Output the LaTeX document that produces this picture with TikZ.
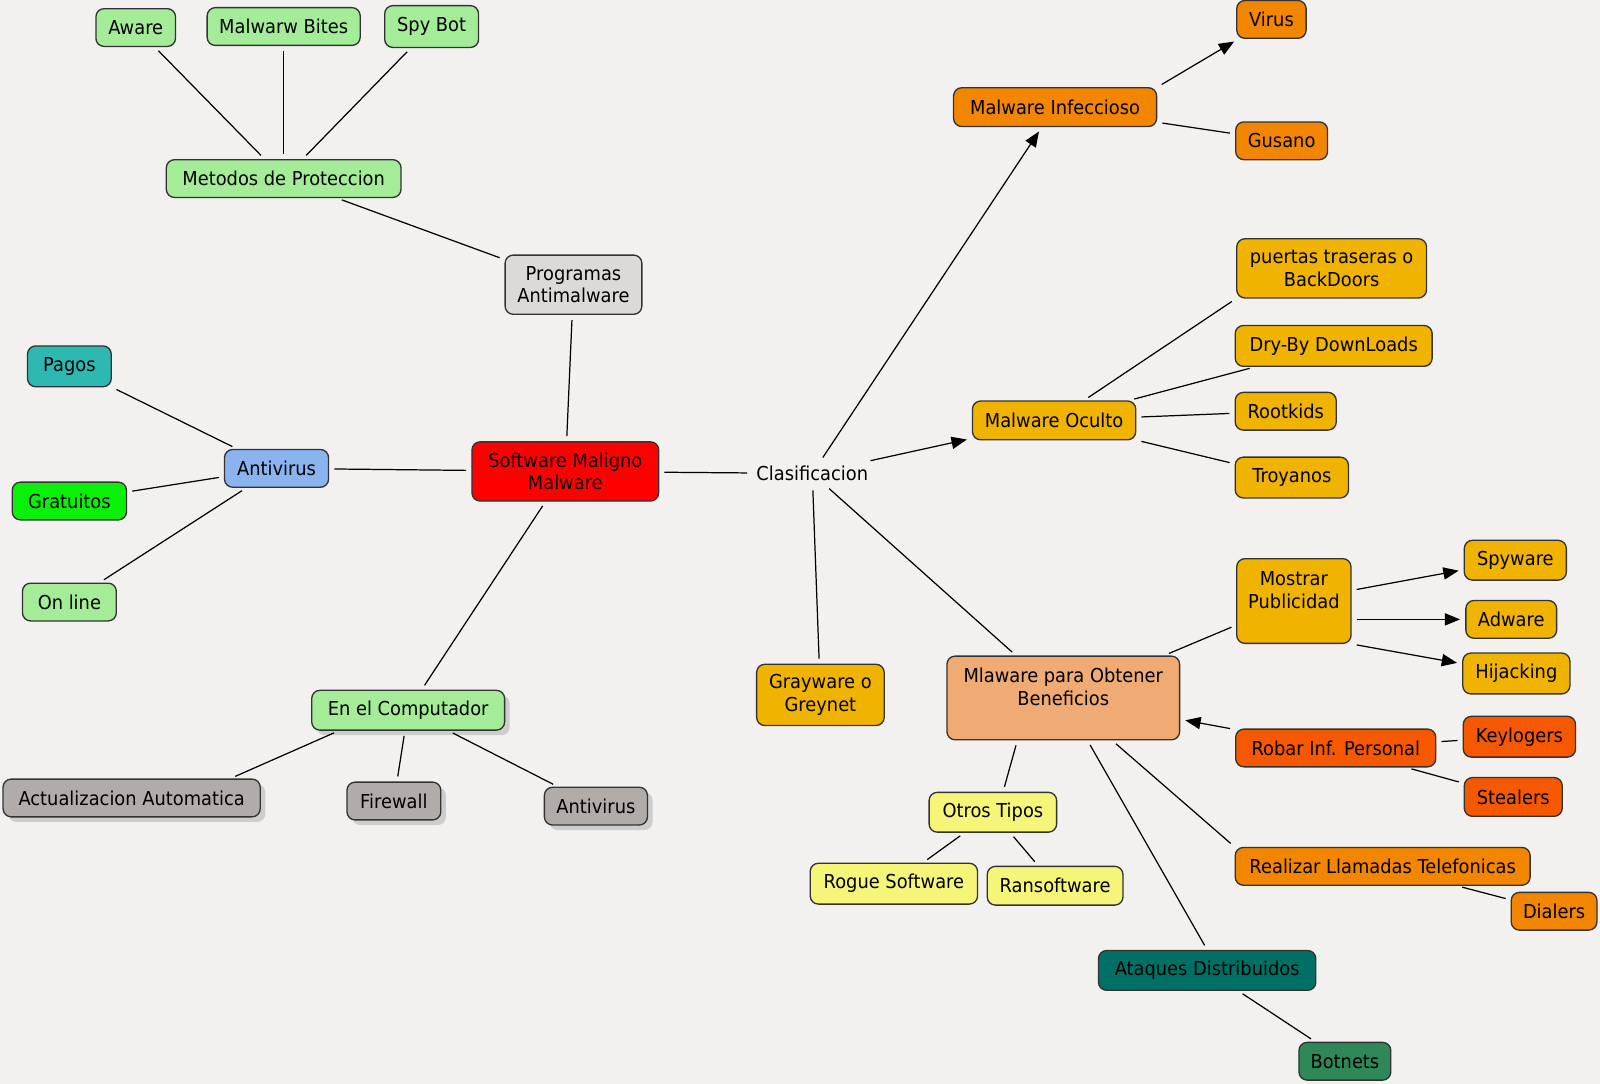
\documentclass[tikz,border=0pt]{standalone}
\usepackage{fontspec}
\setmainfont{DejaVu Sans}[FakeStretch=0.93]
\usetikzlibrary{arrows.meta,shadows}
\begin{document}
\begin{tikzpicture}[x=1pt,y=-1pt,font=\fontsize{18.8}{22}\selectfont,
  box/.style={draw=black!80,line width=1.3pt,rounded corners=8pt,minimum height=37pt,inner xsep=4pt,inner ysep=3pt,align=center},
  shadowed/.style={drop shadow={shadow xshift=5pt,shadow yshift=-5pt,fill=black,opacity=0.15}},
  link/.style={line width=1.2pt,shorten <=5pt,shorten >=5pt},
  arr/.style={link,-{Triangle[length=15pt,width=12pt]}}]
\definecolor{bgcol}{RGB}{242,241,240}
\definecolor{lgreen}{RGB}{164,236,152}
\definecolor{lgray}{RGB}{220,218,216}
\definecolor{teal1}{RGB}{46,184,178}
\definecolor{blue1}{RGB}{138,180,240}
\definecolor{green1}{RGB}{10,240,10}
\definecolor{red1}{RGB}{255,0,0}
\definecolor{gray1}{RGB}{178,172,168}
\definecolor{orange1}{RGB}{242,134,0}
\definecolor{amber}{RGB}{240,180,0}
\definecolor{peach}{RGB}{240,170,115}
\definecolor{redor}{RGB}{246,88,0}
\definecolor{yell}{RGB}{245,245,122}
\definecolor{dteal}{RGB}{0,112,102}
\definecolor{sea}{RGB}{46,136,88}
\fill[bgcol] (0,0) rectangle (1568,1062);
\useasboundingbox (0,0) rectangle (1568,1062);
\node[box,fill=lgreen,minimum width=78pt] (aware) at (133,27) {Aware};
\node[box,fill=lgreen,minimum width=150pt] (bites) at (278,26) {Malwarw Bites};
\node[box,fill=lgreen,minimum width=92pt,minimum height=41pt] (spybot) at (423,26) {Spy Bot};
\node[box,fill=lgreen,minimum width=230pt] (metodos) at (278,175) {Metodos de Proteccion};
\node[box,fill=lgray,minimum width=134pt,minimum height=58pt] (antimal) at (562,279) {Programas\\Antimalware};
\node[box,fill=teal1,minimum width=82pt,minimum height=40pt] (pagos) at (68,359) {Pagos};
\node[box,fill=blue1,minimum width=102pt] (antiv) at (271,459) {Antivirus};
\node[box,fill=green1,minimum width=112pt] (gratis) at (68,491) {Gratuitos};
\node[box,fill=lgreen,minimum width=92pt] (online) at (68,590) {On line};
\node[box,fill=red1,minimum width=183pt,minimum height=58pt] (soft) at (554,462) {Software Maligno\\Malware};
\node[inner sep=4pt] (clasif) at (796,464) {Clasificacion};
\node[box,shadowed,fill=lgreen,minimum width=189pt,minimum height=39pt] (compu) at (400,696) {En el Computador};
\node[box,shadowed,fill=gray1,minimum width=252pt] (actual) at (129,782) {Actualizacion Automatica};
\node[box,shadowed,fill=gray1,minimum width=92pt] (firewall) at (386,785) {Firewall};
\node[box,shadowed,fill=gray1,minimum width=101pt] (antiv2) at (584,790) {Antivirus};
\node[box,fill=orange1,minimum width=199pt,minimum height=38pt] (infec) at (1034,105) {Malware Infeccioso};
\node[box,fill=orange1,minimum width=68pt] (virus) at (1246,19) {Virus};
\node[box,fill=orange1,minimum width=90pt] (gusano) at (1256,138) {Gusano};
\node[box,fill=amber,minimum width=186pt,minimum height=58pt] (puertas) at (1305,263) {puertas traseras o\\BackDoors};
\node[box,fill=amber,minimum width=193pt,minimum height=40pt] (dryby) at (1307,339) {Dry-By DownLoads};
\node[box,fill=amber,minimum width=160pt,minimum height=38pt] (oculto) at (1033,412) {Malware Oculto};
\node[box,fill=amber,minimum width=99pt] (rootkit) at (1260,403) {Rootkids};
\node[box,fill=amber,minimum width=111pt,minimum height=40pt] (troyanos) at (1266,468) {Troyanos};
\node[box,fill=amber,minimum width=112pt,minimum height=83pt] (publi) at (1268,589) {Mostrar\\Publicidad\\\mbox{}};
\node[box,fill=amber,minimum width=100pt,minimum height=39pt] (spy) at (1485,549) {Spyware};
\node[box,fill=amber,minimum width=89pt] (adware) at (1481,607) {Adware};
\node[box,fill=amber,minimum width=105pt,minimum height=40pt] (hijack) at (1486,660) {Hijacking};
\node[box,fill=amber,minimum width=125pt,minimum height=60pt] (grayw) at (804,681) {Grayware o\\Greynet};
\node[box,fill=peach,minimum width=228pt,minimum height=82pt] (benef) at (1042,684) {Mlaware para Obtener\\Beneficios\\\mbox{}};
\node[box,fill=redor,minimum width=196pt] (robar) at (1309,733) {Robar Inf. Personal};
\node[box,fill=redor,minimum width=110pt,minimum height=40pt] (keylog) at (1489,722) {Keylogers};
\node[box,fill=redor,minimum width=96pt,minimum height=38pt] (steal) at (1483,781) {Stealers};
\node[box,fill=yell,minimum width=125pt,minimum height=39pt] (otros) at (973,796) {Otros Tipos};
\node[box,fill=yell,minimum width=164pt,minimum height=40pt] (rogue) at (876,866) {Rogue Software};
\node[box,fill=yell,minimum width=133pt,minimum height=38pt] (ransom) at (1034,868) {Ransoftware};
\node[box,fill=orange1,minimum width=289pt] (llamadas) at (1355,849) {Realizar Llamadas Telefonicas};
\node[box,fill=orange1,minimum width=84pt] (dialers) at (1523,893) {Dialers};
\node[box,fill=dteal,minimum width=213pt,minimum height=39pt] (ataques) at (1183,951) {Ataques Distribuidos};
\node[box,fill=sea,minimum width=90pt] (botnets) at (1318,1040) {Botnets};
\draw[link] (metodos) -- (aware);
\draw[link] (metodos) -- (bites);
\draw[link] (metodos) -- (spybot);
\draw[link] (metodos) -- (antimal);
\draw[link] (antimal) -- (soft);
\draw[link] (antiv) -- (pagos);
\draw[link] (antiv) -- (gratis);
\draw[link] (antiv) -- (online);
\draw[link] (antiv) -- (soft);
\draw[link] (soft) -- (compu);
\draw[link] ([xshift=-68pt]compu.south) -- ([xshift=97pt]actual.north);
\draw[link] (compu) -- (firewall);
\draw[link] (compu) -- (antiv2);
\draw[link] (soft) -- (clasif);
\draw[arr] (clasif) -- (infec);
\draw[arr] (clasif) -- (oculto);
\draw[link] (clasif) -- (grayw);
\draw[link] (clasif) -- (benef);
\draw[arr] (infec.north east) -- (virus);
\draw[link] (infec) -- (gusano);
\draw[link] (oculto) -- (puertas.south west);
\draw[link] (oculto) -- (dryby);
\draw[link] (oculto) -- (rootkit);
\draw[link] (oculto) -- (troyanos);
\draw[link] (benef) -- (publi);
\draw[arr] (publi) -- (spy);
\draw[arr] (publi.east |- adware) -- (adware);
\draw[arr] (publi.south east) -- (hijack);
\draw[arr] (robar) -- (benef);
\draw[link] (robar) -- (keylog);
\draw[link] (robar) -- (steal);
\draw[link] ([xshift=-45pt]benef.south) -- ([xshift=10pt]otros.north);
\draw[link] (otros) -- (rogue);
\draw[link] (otros) -- (ransom);
\draw[link] (benef) -- (ataques.north);
\draw[link] (benef) -- (llamadas.north west);
\draw[link] (llamadas) -- (dialers);
\draw[link] (ataques) -- (botnets);
\end{tikzpicture}
\end{document}
